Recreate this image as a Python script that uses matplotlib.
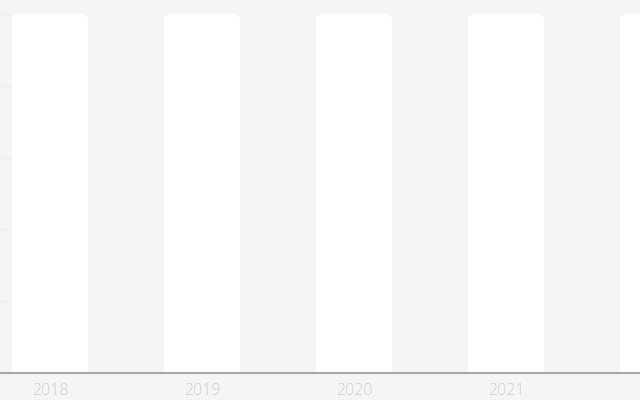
import matplotlib
matplotlib.use('Agg')
import matplotlib.pyplot as plt
from matplotlib.patches import FancyBboxPatch

# Data
years = ['2018', '2019', '2020', '2021', '2022']
values = [100, 100, 100, 100, 100]
y_ticks = [0, 20, 40, 60, 80, 100]

bg = '#f5f5f5'
fig = plt.figure(figsize=(6.4, 4), dpi=100, facecolor=bg)
ax = fig.add_axes([0, 0.0675, 1, 0.8975])
ax.set_facecolor(bg)

x = list(range(len(years)))
bars = ax.bar(x, values, width=0.5, color='white', zorder=2)

# swap plain bars for ones with rounded top corners
for b in bars:
    bx, by = b.get_x(), b.get_y()
    w, h = b.get_width(), b.get_height()
    b.remove()
    p = FancyBboxPatch((bx, by - 10), w, h + 10,
                       boxstyle='round,pad=0,rounding_size=0.04',
                       mutation_aspect=42, facecolor='white',
                       edgecolor='none', zorder=2)
    p.set_clip_path(ax.patch)
    ax.add_patch(p)

ax.set_xticks(x)
ax.set_xticklabels(years, fontfamily='Open Sans', fontweight='light',
                   fontsize=11.5, color='#cdcdcd')
ax.tick_params(axis='x', length=0, pad=7)
ax.set_yticks(y_ticks)
ax.tick_params(axis='y', direction='in', length=8, width=1, color='#ededed',
               labelleft=False)

# limits last, set_xticks would widen them otherwise
ax.set_xlim(-50 / 152, 590 / 152)
ax.set_ylim(0, 100)

for s in ['top', 'right', 'left']:
    ax.spines[s].set_visible(False)
ax.spines['bottom'].set_color('#a8a8a8')
ax.spines['bottom'].set_linewidth(1.5)
ax.spines['bottom'].set_zorder(3)

fig.savefig('out.png', dpi=100, facecolor=bg)
